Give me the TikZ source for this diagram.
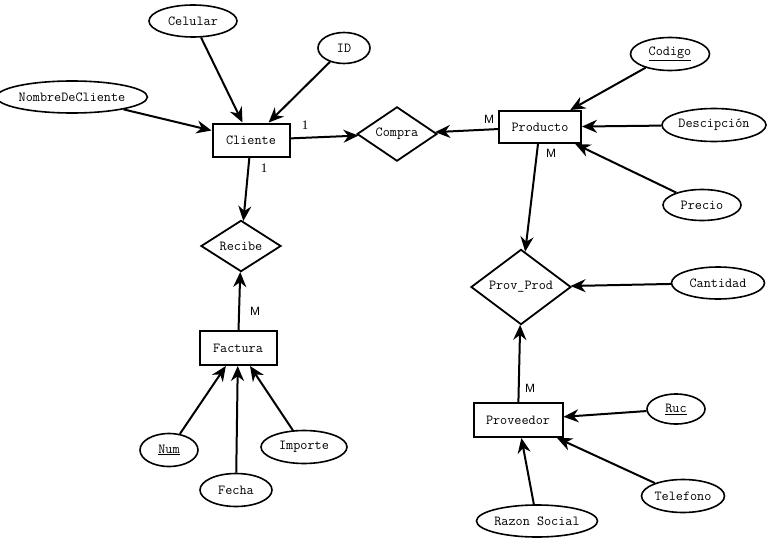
\documentclass[tikz,border=0pt]{standalone}
\usepackage{fontspec}
\setmainfont{Liberation Serif}
\setsansfont{Liberation Sans}
\usetikzlibrary{shapes.geometric,arrows.meta}
\begin{document}
\begin{tikzpicture}[x=1pt,y=-1pt,
  every node/.style={font=\ttfamily\fontsize{13.8}{15}\selectfont},
  entity/.style={draw,line width=2pt,rectangle,inner sep=0pt},
  attr/.style={draw,line width=1.6pt,ellipse,inner sep=0pt},
  rel/.style={draw,line width=1.8pt,diamond,inner sep=0pt},
  conn/.style={line width=2pt,-{Stealth[length=15pt,width=13pt]}},
  card/.style={font=\sffamily\fontsize{12}{14}\selectfont},
  cardone/.style={font=\rmfamily\fontsize{13}{15}\selectfont}]
\useasboundingbox[fill=white] (0,0) rectangle (768,543);

% entities
\node[entity,minimum width=77pt,minimum height=33pt] (cliente) at (251,140) {Cliente};
\node[entity,minimum width=82pt,minimum height=32pt] (producto) at (540,127) {Producto};
\node[entity,minimum width=77pt,minimum height=34pt] (factura) at (238,348) {Factura};
\node[entity,minimum width=89pt,minimum height=34pt] (proveedor) at (518,420) {Proveedor};

% relationships
\node[rel,minimum width=80pt,minimum height=44pt] (compra) at (397,134) {Compra};
\node[rel,minimum width=80pt,minimum height=47pt] (recibe) at (241,246) {Recibe};
\node[rel,minimum width=100pt,minimum height=60pt] (provprod) at (521,287) {Prov\_Prod};

% attributes
\node[attr,minimum width=88pt,minimum height=32pt] (celular) at (193,21) {Celular};
\node[attr,minimum width=52pt,minimum height=31pt] (id) at (344,48) {ID};
\node[attr,minimum width=144pt,minimum height=32pt] (nombre) at (72,97) {NombreDeCliente};
\node[attr,minimum width=79pt,minimum height=33pt] (codigo) at (670,54) {\underline{Codigo}};
\node[attr,minimum width=104pt,minimum height=33pt] (desc) at (714,125) {Descipción};
\node[attr,minimum width=78pt,minimum height=31pt] (precio) at (702,205) {Precio};
\node[attr,minimum width=93pt,minimum height=32pt] (cantidad) at (718,283) {Cantidad};
\node[attr,minimum width=58pt,minimum height=33pt] (num) at (169,450) {\underline{Num}};
\node[attr,minimum width=86pt,minimum height=33pt] (importe) at (304,447) {Importe};
\node[attr,minimum width=72pt,minimum height=33pt] (fecha) at (236,490) {Fecha};
\node[attr,minimum width=58pt,minimum height=30pt] (ruc) at (676,409) {\underline{Ruc}};
\node[attr,minimum width=83pt,minimum height=33pt] (telefono) at (683,496) {Telefono};
\node[attr,minimum width=121pt,minimum height=32pt] (razon) at (537,521) {Razon Social};

% connectors
\draw[conn] (celular) -- (cliente);
\draw[conn] (id) -- (cliente);
\draw[conn] (nombre) -- (cliente);
\draw[conn] (cliente) -- (compra);
\draw[conn] (producto) -- (compra);
\draw[conn] (codigo) -- (producto);
\draw[conn] (desc) -- (producto);
\draw[conn] (precio) -- (producto);
\draw[conn] (cliente) -- (recibe);
\draw[conn] (factura) -- (recibe);
\draw[conn] (num) -- (factura);
\draw[conn] (fecha) -- (factura);
\draw[conn] (importe) -- (factura);
\draw[conn] (producto) -- (provprod);
\draw[conn] (cantidad) -- (provprod);
\draw[conn] (proveedor) -- (provprod);
\draw[conn] (ruc) -- (proveedor);
\draw[conn] (telefono) -- (proveedor);
\draw[conn] (razon) -- (proveedor);

% cardinalities
\node[cardone] (c1) at (305,125) {1};
\node[cardone] (c2) at (264,168) {1};
\node[card] (c3) at (489,119) {M};
\node[card] (c4) at (551,153) {M};
\node[card] (c5) at (255,311) {M};
\node[card] (c6) at (530,388) {M};
\end{tikzpicture}
\end{document}
